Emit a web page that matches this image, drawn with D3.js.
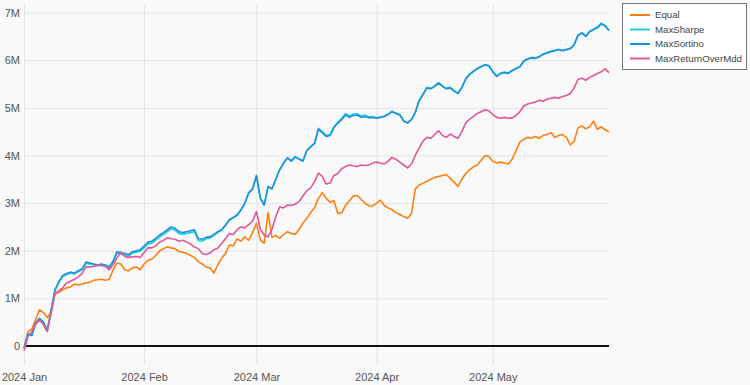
<!DOCTYPE html>
<html>
<head>
<meta charset="utf-8">
<script src="https://cdn.jsdelivr.net/npm/d3@7"></script>
<style>
  body { margin: 0; background: #f9f9f9; }
  svg { display: block; font-family: "Liberation Sans", Arial, sans-serif; }
  .tick text { fill: #555; font-size: 11px; }
  .grid line { stroke: #e3e3e3; }
  .legend text { fill: #444; }
</style>
</head>
<body>
<svg width="750" height="385"></svg>
<script>
// daily values, in millions, 2024-01-01 .. 2024-05-31
const startDate = "2024-01-01";
const seriesNames = ["Equal", "MaxSharpe", "MaxSortino", "MaxReturnOverMdd"];
const seriesColors = ["#ff7f0e", "#1fd0d8", "#1f8fe0", "#e0579a"];

const equal = [
  -0.05, 0.30, 0.35, 0.55, 0.76, 0.70, 0.60, 0.70, 1.10, 1.12,
  1.18, 1.22, 1.24, 1.30, 1.28, 1.30, 1.32, 1.34, 1.38, 1.39,
  1.40, 1.38, 1.40, 1.60, 1.74, 1.72, 1.60, 1.58, 1.64, 1.66,
  1.60, 1.72, 1.80, 1.82, 1.90, 2.00, 2.04, 2.08, 2.06, 2.04,
  1.98, 1.97, 1.94, 1.90, 1.86, 1.77, 1.72, 1.66, 1.64, 1.53,
  1.70, 1.84, 1.94, 2.12, 2.10, 2.25, 2.20, 2.29, 2.22, 2.38,
  2.58, 2.22, 2.16, 2.80, 2.28, 2.32, 2.26, 2.34, 2.40, 2.36,
  2.34, 2.45, 2.58, 2.68, 2.80, 2.90, 3.10, 3.22, 3.10, 3.02,
  3.05, 2.78, 2.80, 2.95, 3.05, 3.15, 3.16, 3.08, 3.00, 2.94,
  2.94, 3.00, 3.06, 2.95, 2.90, 2.86, 2.80, 2.76, 2.72, 2.68,
  2.78, 3.30, 3.38, 3.42, 3.46, 3.50, 3.54, 3.56, 3.58, 3.60,
  3.52, 3.44, 3.35, 3.50, 3.62, 3.70, 3.76, 3.80, 3.90, 4.00,
  3.98, 3.88, 3.84, 3.86, 3.84, 3.82, 3.92, 4.10, 4.28, 4.34,
  4.38, 4.36, 4.40, 4.36, 4.42, 4.44, 4.48, 4.38, 4.42, 4.44,
  4.38, 4.22, 4.30, 4.58, 4.62, 4.56, 4.60, 4.72, 4.55, 4.60,
  4.54, 4.50
];

const maxSharpe = [
  -0.05, 0.24, 0.22, 0.46, 0.57, 0.49, 0.33, 0.74, 1.16, 1.33,
  1.46, 1.50, 1.53, 1.51, 1.56, 1.60, 1.73, 1.72, 1.70, 1.68,
  1.70, 1.68, 1.64, 1.76, 1.95, 1.93, 1.91, 1.89, 1.95, 1.97,
  1.99, 2.06, 2.14, 2.16, 2.22, 2.29, 2.34, 2.40, 2.46, 2.43,
  2.36, 2.34, 2.36, 2.38, 2.40, 2.21, 2.20, 2.25, 2.27, 2.32,
  2.38, 2.43, 2.53, 2.64, 2.69, 2.74, 2.85, 2.99, 3.21, 3.29,
  3.57, 3.10, 2.96, 3.34, 3.30, 3.50, 3.70, 3.84, 3.95, 3.89,
  3.97, 3.93, 3.89, 4.11, 4.19, 4.26, 4.57, 4.50, 4.42, 4.44,
  4.60, 4.70, 4.78, 4.88, 4.83, 4.87, 4.88, 4.83, 4.85, 4.81,
  4.82, 4.79, 4.81, 4.83, 4.87, 4.93, 4.89, 4.86, 4.73, 4.69,
  4.76, 4.91, 5.16, 5.29, 5.43, 5.41, 5.46, 5.53, 5.46, 5.41,
  5.43, 5.36, 5.31, 5.43, 5.61, 5.71, 5.77, 5.83, 5.87, 5.91,
  5.89, 5.77, 5.67, 5.73, 5.75, 5.73, 5.79, 5.83, 5.87, 5.99,
  6.03, 6.06, 6.05, 6.08, 6.13, 6.16, 6.19, 6.21, 6.23, 6.21,
  6.23, 6.25, 6.33, 6.53, 6.58, 6.51, 6.61, 6.65, 6.70, 6.78,
  6.73, 6.63
];

const maxSortino = [
  -0.05, 0.25, 0.22, 0.48, 0.58, 0.50, 0.32, 0.75, 1.18, 1.35,
  1.48, 1.52, 1.55, 1.53, 1.58, 1.62, 1.76, 1.74, 1.72, 1.70,
  1.72, 1.70, 1.66, 1.78, 1.98, 1.96, 1.94, 1.92, 1.98, 2.00,
  2.02, 2.10, 2.18, 2.20, 2.26, 2.33, 2.38, 2.44, 2.50, 2.47,
  2.40, 2.38, 2.40, 2.42, 2.44, 2.25, 2.24, 2.28, 2.29, 2.34,
  2.40, 2.44, 2.54, 2.65, 2.70, 2.75, 2.86, 3.00, 3.22, 3.30,
  3.58, 3.10, 2.96, 3.35, 3.30, 3.50, 3.70, 3.84, 3.95, 3.88,
  3.97, 3.92, 3.88, 4.10, 4.18, 4.25, 4.55, 4.48, 4.40, 4.42,
  4.58, 4.68, 4.75, 4.85, 4.80, 4.84, 4.85, 4.80, 4.82, 4.79,
  4.80, 4.78, 4.80, 4.82, 4.86, 4.92, 4.88, 4.85, 4.72, 4.68,
  4.75, 4.90, 5.15, 5.28, 5.42, 5.40, 5.45, 5.52, 5.45, 5.40,
  5.42, 5.35, 5.30, 5.42, 5.60, 5.70, 5.76, 5.82, 5.86, 5.90,
  5.88, 5.76, 5.66, 5.72, 5.74, 5.72, 5.78, 5.82, 5.86, 5.98,
  6.02, 6.05, 6.04, 6.07, 6.12, 6.15, 6.18, 6.20, 6.22, 6.20,
  6.22, 6.24, 6.32, 6.52, 6.57, 6.50, 6.60, 6.64, 6.68, 6.76,
  6.72, 6.62
];

const maxReturnOverMdd = [
  -0.10, 0.20, 0.30, 0.45, 0.55, 0.45, 0.30, 0.70, 1.10, 1.16,
  1.22, 1.32, 1.36, 1.40, 1.45, 1.52, 1.66, 1.66, 1.67, 1.70,
  1.69, 1.67, 1.60, 1.70, 1.85, 1.97, 1.88, 1.86, 1.87, 1.88,
  1.86, 1.96, 2.06, 2.06, 2.10, 2.18, 2.22, 2.27, 2.25, 2.24,
  2.20, 2.22, 2.18, 2.14, 2.08, 2.04, 1.94, 1.92, 1.95, 2.02,
  2.05, 2.15, 2.25, 2.36, 2.34, 2.44, 2.50, 2.48, 2.55, 2.62,
  2.82, 2.45, 2.33, 2.29, 2.45, 2.72, 2.92, 2.90, 2.96, 2.95,
  2.98, 3.03, 3.15, 3.26, 3.32, 3.45, 3.63, 3.56, 3.40, 3.42,
  3.58, 3.62, 3.72, 3.77, 3.80, 3.78, 3.77, 3.80, 3.79, 3.80,
  3.84, 3.86, 3.84, 3.82, 3.88, 3.96, 3.92, 3.86, 3.80, 3.74,
  3.82, 4.00, 4.16, 4.30, 4.38, 4.36, 4.44, 4.52, 4.42, 4.38,
  4.45, 4.40, 4.36, 4.50, 4.68, 4.76, 4.82, 4.88, 4.92, 4.96,
  4.94, 4.86, 4.80, 4.78, 4.80, 4.78, 4.79, 4.84, 4.92, 5.04,
  5.08, 5.10, 5.12, 5.16, 5.14, 5.18, 5.20, 5.22, 5.20, 5.24,
  5.26, 5.30, 5.42, 5.60, 5.62, 5.58, 5.64, 5.68, 5.72, 5.76,
  5.82, 5.74
];

const yTicks = [0, 1, 2, 3, 4, 5, 6, 7];
const xTickLabels = ["2024 Jan", "2024 Feb", "2024 Mar", "2024 Apr", "2024 May"];

const allSeries = [equal, maxSharpe, maxSortino, maxReturnOverMdd];
const t0 = d3.timeParse("%Y-%m-%d")(startDate);
const dates = equal.map((v, i) => d3.timeDay.offset(t0, i));

const svg = d3.select("svg");
const margin = {top: 5, right: 141, bottom: 20, left: 24};
const width = 750 - margin.left - margin.right;
const height = 385 - margin.top - margin.bottom;

const chart = svg.append("g")
  .attr("transform", `translate(${margin.left}, ${margin.top})`);

const xScale = d3.scaleTime()
  .domain(d3.extent(dates))
  .range([0, width]);

const yScale = d3.scaleLinear()
  .domain([-0.4, 7.16])
  .range([height, 0]);

const monthTicks = d3.timeMonth.range(t0, dates[dates.length - 1]);

// grid
chart.append("g")
  .attr("class", "grid")
  .call(d3.axisLeft(yScale).tickValues(yTicks).tickSize(-width).tickFormat(""))
  .call(g => g.select(".domain").remove());

chart.append("g")
  .attr("class", "grid")
  .attr("transform", `translate(0, ${height})`)
  .call(d3.axisBottom(xScale).tickValues(monthTicks).tickSize(-height).tickFormat(""))
  .call(g => g.select(".domain").remove());

// zero line
chart.append("line")
  .attr("x1", 0)
  .attr("x2", width)
  .attr("y1", yScale(0))
  .attr("y2", yScale(0))
  .attr("stroke", "#111")
  .attr("stroke-width", 2);

// tick labels
chart.append("g")
  .call(d3.axisLeft(yScale).tickValues(yTicks).tickSize(0).tickPadding(4)
    .tickFormat(d => d === 0 ? "0" : d + "M"))
  .call(g => g.select(".domain").remove());

chart.append("g")
  .attr("transform", `translate(0, ${height})`)
  .call(d3.axisBottom(xScale).tickValues(monthTicks).tickSize(0).tickPadding(8)
    .tickFormat((d, i) => xTickLabels[i]))
  .call(g => g.select(".domain").remove());

// lines
const line = d3.line()
  .x((d, i) => xScale(dates[i]))
  .y(d => yScale(d));

allSeries.forEach((s, k) => {
  chart.append("path")
    .datum(s)
    .attr("fill", "none")
    .attr("stroke", seriesColors[k])
    .attr("stroke-width", 1.6)
    .attr("stroke-linejoin", "round")
    .attr("d", line);
});

// legend
const legend = svg.append("g")
  .attr("class", "legend")
  .attr("transform", "translate(622, 3)");

legend.append("rect")
  .attr("x", 0.5)
  .attr("y", 0.5)
  .attr("width", 124)
  .attr("height", 66)
  .attr("fill", "#fff")
  .attr("stroke", "#777")
  .attr("stroke-width", 1);

const labels = [];
seriesNames.forEach((name, k) => {
  const row = legend.append("g")
    .attr("transform", `translate(0, ${12 + k * 14.5})`);
  row.append("line")
    .attr("x1", 8)
    .attr("x2", 28)
    .attr("stroke", seriesColors[k])
    .attr("stroke-width", 2);
  labels.push(row.append("text")
    .attr("x", 33)
    .attr("dy", "0.35em")
    .style("font-size", "11px")
    .text(name));
});

// shrink legend text so the longest name fits inside the box
const widest = d3.max(labels, t => t.node().getComputedTextLength());
if (widest > 87) {
  const fs = 11 * 87 / widest;
  labels.forEach(t => t.style("font-size", fs + "px"));
}
</script>
</body>
</html>
